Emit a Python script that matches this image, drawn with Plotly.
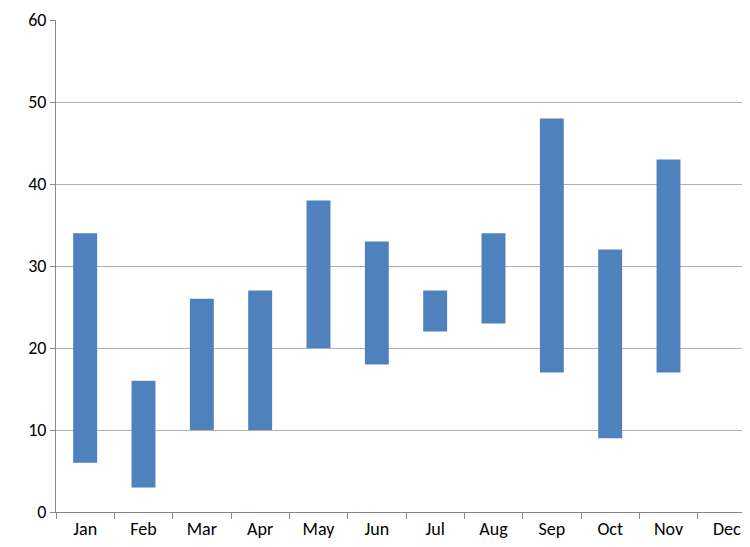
import plotly.graph_objects as go

months = ["Jan","Feb","Mar","Apr","May","Jun","Jul","Aug","Sep","Oct","Nov","Dec"]
low =  [6, 3, 10, 10, 20, 18, 22, 23, 17, 9, 17, None]
high = [34, 16, 26, 27, 38, 33, 27, 34, 48, 32, 43, None]
span = [None if l is None else h - l for l, h in zip(low, high)]

fig = go.Figure(go.Bar(x=months, y=span, base=low, marker_color="#4f81bd",
                       marker_line_width=0, width=0.41))
fig.update_layout(
    width=750, height=547, margin=dict(l=48, r=2, t=12, b=43, autoexpand=False),
    plot_bgcolor="white", paper_bgcolor="white", showlegend=False,
    font=dict(family="Carlito, Liberation Sans, Arial", size=18, color="#000"),
)
fig.update_xaxes(tickson="boundaries", ticks="outside", ticklen=6, tickcolor="#888",
                 showline=True, linecolor="#888", showgrid=False, automargin=False)
fig.update_yaxes(range=[0, 60], dtick=10, showgrid=True, gridcolor="#b0b0b0",
                 showline=True, linecolor="#888", ticks="outside", ticklen=5, tickcolor="#888",
                 zeroline=False, automargin=False)
fig.write_html("out.html")
